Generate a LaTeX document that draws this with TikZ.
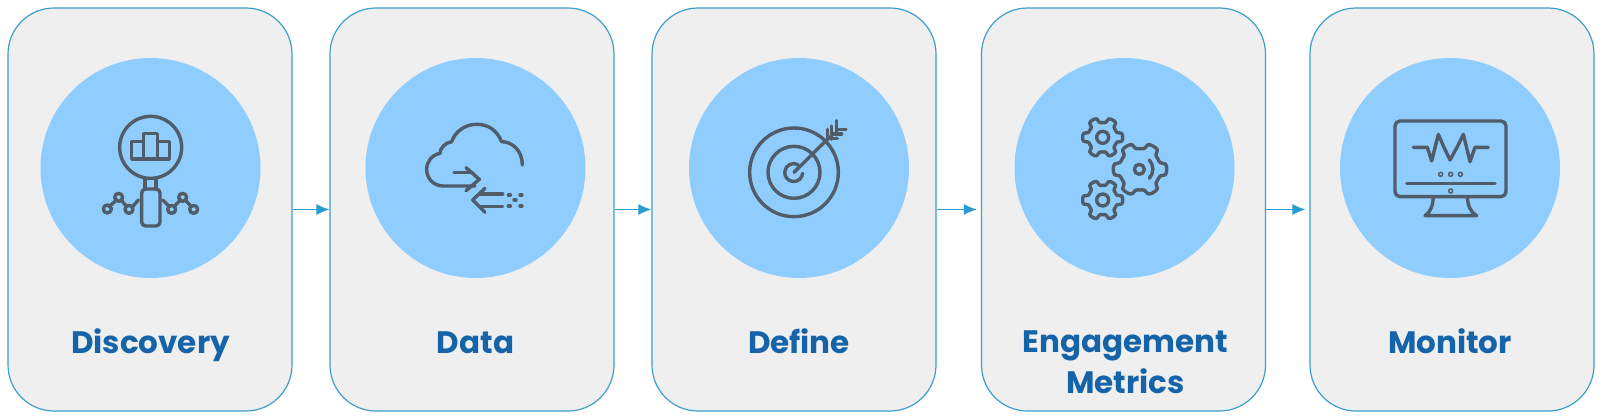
\documentclass[tikz,border=0pt]{standalone}
\usepackage{fontspec}
\setmainfont{Poppins}
\usetikzlibrary{arrows.meta}

\definecolor{cardfill}{HTML}{EFEFEF}
\definecolor{cardline}{HTML}{3D9FCB}
\definecolor{discfill}{HTML}{90CDFF}
\definecolor{iconline}{HTML}{505C68}
\definecolor{labeltext}{HTML}{1563A8}
\definecolor{flowline}{HTML}{2A9BD0}

\tikzset{
    card/.style={draw=cardline, fill=cardfill, line width=1.2pt, rounded corners=46pt, minimum width=284pt, minimum height=403pt},
    disc/.style={circle, fill=discfill, minimum size=220pt, inner sep=0pt},
    steplabel/.style={text=labeltext, font=\fontsize{31}{41}\selectfont\bfseries, align=center, anchor=base},
    flowarrow/.style={draw=flowline, line width=1.2pt, -{Latex[length=13pt,width=11pt]}},
    iconstroke/.style={draw=iconline, line width=3.4pt, line cap=round, line join=round},
    dotstroke/.style={draw=iconline, line width=1.5pt}
}

%% gear: centre x, centre y, root radius, tip radius
\newcommand{\gearicon}[4]{
    \draw [iconstroke] plot [domain=0:354, samples=60, smooth cycle]
        ({#1+(#3+(#4-#3)*0.5*(1+max(-1,min(1,2.5*cos(6*\x)))))*cos(\x)},
         {#2+(#3+(#4-#3)*0.5*(1+max(-1,min(1,2.5*cos(6*\x)))))*sin(\x)});
}

\begin{document}
\begin{tikzpicture}[x=1pt, y=-1pt]
    \useasboundingbox (0,0) rectangle (1600,420);

    %% cards
    \node [card] (discovery) at (150,209.5) {};
    \node [card] (data) at (472,209.5) {};
    \node [card] (define) at (794,209.5) {};
    \node [card] (engagement) at (1123.5,209.5) {};
    \node [card] (monitor) at (1452,209.5) {};

    %% arrows
    \draw [flowarrow] (discovery) -- (data);
    \draw [flowarrow] (data) -- (define);
    \draw [flowarrow, shorten >=4pt] (define) -- (engagement);
    \draw [flowarrow, shorten >=4pt] (engagement) -- (monitor);

    %% discs
    \node [disc] (discoverydisc) at (150.5,168) {};
    \node [disc] (datadisc) at (475.5,168) {};
    \node [disc] (definedisc) at (799,168) {};
    \node [disc] (engagementdisc) at (1124.5,168) {};
    \node [disc] (monitordisc) at (1450,168) {};

    %% labels
    \node [steplabel] (discoverytext) at (150.5,353) {Discovery};
    \node [steplabel] (datatext) at (475.5,353) {Data};
    \node [steplabel] (definetext) at (799,353) {Define};
    \node [steplabel] (engagementtext) at (1125.5,393) {Engagement\\Metrics};
    \node [steplabel] (monitortext) at (1450,353) {Monitor};

    %% magnifier
    \begin{scope}[shift={(60,90)}, scale=1/3]
        \draw [iconstroke] (272,172) circle (93);
        \draw [iconstroke] (215,207) -- (215,155) -- (250,155) -- (250,130) -- (292,130) -- (292,155) -- (328,155) -- (328,207) -- cycle;
        \draw [iconstroke] (250,155) -- (250,207) (292,155) -- (292,207);
        \draw [iconstroke] (255,265) -- (255,297) (288,265) -- (288,297);
        \draw [iconstroke, rounded corners=4pt] (245,297) rectangle (300,408);
        \draw [iconstroke] (148,350) -- (170,329) (183,329) -- (200,350) (216,352) -- (235,330);
        \draw [iconstroke] (308,330) -- (328,350) (342,350) -- (362,329) (375,329) -- (394,350);
        \draw [iconstroke] (142,357) circle (12) (176,322) circle (12) (207,358) circle (12);
        \draw [iconstroke] (335,358) circle (12) (368,322) circle (12) (401,358) circle (12);
    \end{scope}

    %% cloud
    \begin{scope}[shift={(390,100)}, scale=1/3]
        \draw [iconstroke] (397,195) .. controls (397,150) and (365,125) .. (335,125)
            .. controls (320,90) and (295,73) .. (260,73)
            .. controls (225,73) and (195,95) .. (185,125)
            .. controls (165,128) and (150,145) .. (150,160)
            .. controls (125,165) and (110,185) .. (110,208)
            .. controls (110,235) and (130,258) .. (160,258) -- (255,258);
        \draw [iconstroke] (192,217) -- (248,217);
        \draw [iconstroke] (228,203) -- (268,238) -- (228,272);
        \draw [iconstroke] (270,282) -- (338,282) (270,320) -- (338,320);
        \draw [iconstroke] (285,265) -- (248,300) -- (285,337);
        \draw [iconstroke] (355,285) -- (361,285) (390,285) -- (396,285) (372,300) -- (378,300) (355,318) -- (361,318) (390,318) -- (396,318);
    \end{scope}

    %% target
    \begin{scope}[shift={(720,100)}, scale=1/3]
        \draw [iconstroke] (222,217) circle (133);
        \draw [iconstroke] (222,217) circle (78);
        \draw [iconstroke] (248,220) arc (5:300:27);
        \draw [iconstroke] (222,217) -- (330,110);
        \draw [iconstroke] (322,88) -- (322,120) (335,78) -- (335,118) (350,62) -- (350,105);
        \draw [iconstroke] (350,88) -- (378,88) (335,102) -- (365,102) (325,115) -- (352,115);
    \end{scope}

    %% gears
    \begin{scope}[shift={(1060,100)}, scale=1/3]
        \gearicon{128}{112}{44}{60}
        \gearicon{240}{208}{62}{80}
        \gearicon{128}{300}{44}{60}
        \draw [iconstroke] (128,112) circle (18);
        \draw [iconstroke] (128,300) circle (18);
        \draw [iconstroke] (238,208) circle (15);
        \draw [iconstroke] (268,180) .. controls (282,195) and (282,220) .. (268,235);
    \end{scope}

    %% monitor
    \begin{scope}[shift={(1370,105)}, scale=1/3]
        \draw [iconstroke, rounded corners=5pt] (75,48) rectangle (408,275);
        \draw [iconstroke] (130,127) -- (172,127) -- (185,168) -- (205,88) -- (222,127) -- (240,165) -- (262,125) -- (280,88) -- (300,170) -- (315,127) -- (355,127);
        \draw [dotstroke] (212,208) circle (6) (242,208) circle (6) (271,208) circle (6) (242,258) circle (6);
        \draw [iconstroke] (110,236) -- (375,236);
        \draw [iconstroke] (190,278) .. controls (188,300) and (185,318) .. (165,332) -- (320,332) .. controls (298,318) and (294,300) .. (292,278);
    \end{scope}
\end{tikzpicture}
\end{document}
